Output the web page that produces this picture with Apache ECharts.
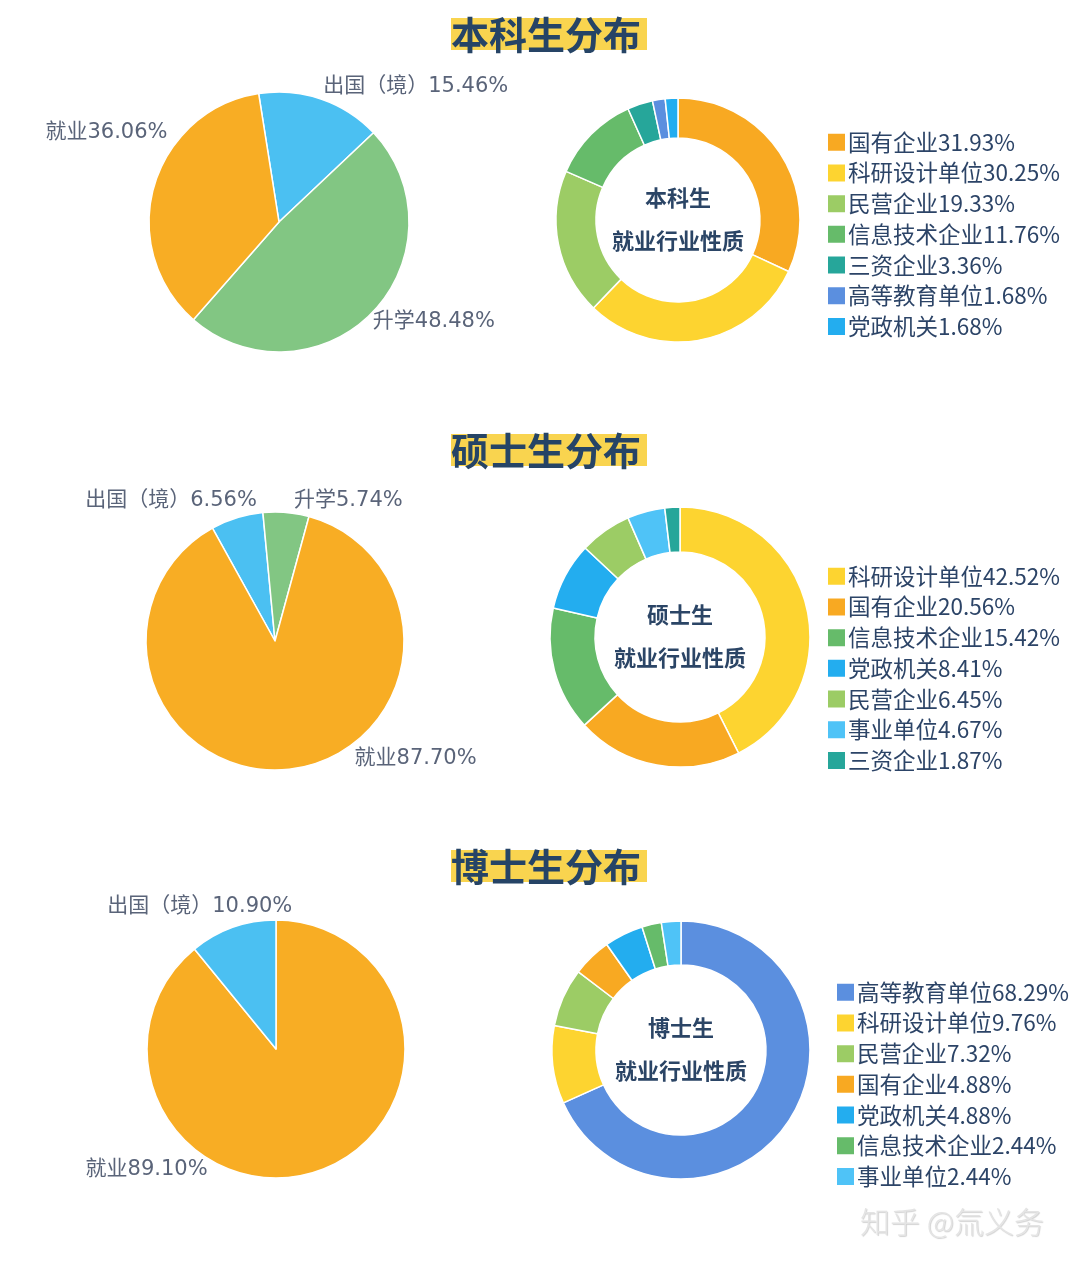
<!DOCTYPE html>
<html>
<head>
<meta charset="utf-8">
<script src="https://cdn.jsdelivr.net/npm/echarts@6/dist/echarts.min.js"></script>
<style>
html,body{margin:0;padding:0;background:#fff;}
#chart{width:1080px;height:1267px;}
</style>
</head>
<body>
<div id="chart"></div>
<script>
// ---------- DATA ----------
const sectionTitles = ['本科生分布', '硕士生分布', '博士生分布'];
const donutCenterTitles = ['本科生', '硕士生', '博士生'];
const donutCenterSubtitle = '就业行业性质';

const undergradOutcomeNames = ['出国（境）', '升学', '就业'];
const undergradOutcomeValues = [15.46, 48.48, 36.06];
const masterOutcomeNames = ['出国（境）', '升学', '就业'];
const masterOutcomeValues = [6.56, 5.74, 87.70];
const phdOutcomeNames = ['就业', '出国（境）'];
const phdOutcomeValues = [89.10, 10.90];

const undergradIndustryNames = ['国有企业', '科研设计单位', '民营企业', '信息技术企业', '三资企业', '高等教育单位', '党政机关'];
const undergradIndustryValues = [31.93, 30.25, 19.33, 11.76, 3.36, 1.68, 1.68];
const masterIndustryNames = ['科研设计单位', '国有企业', '信息技术企业', '党政机关', '民营企业', '事业单位', '三资企业'];
const masterIndustryValues = [42.52, 20.56, 15.42, 8.41, 6.45, 4.67, 1.87];
const phdIndustryNames = ['高等教育单位', '科研设计单位', '民营企业', '国有企业', '党政机关', '信息技术企业', '事业单位'];
const phdIndustryValues = [68.29, 9.76, 7.32, 4.88, 4.88, 2.44, 2.44];

const watermarkText = '知乎 @氚义务';

// ---------- STYLE ----------
const FONT = '"Noto Sans CJK SC", "Noto Sans", sans-serif';
const LABEL_FONT = '"DejaVu Sans", "Noto Sans CJK SC", sans-serif';
const colorMap = {
  '出国（境）': '#4BC0F2',
  '升学': '#82C683',
  '就业': '#F8AD24',
  '国有企业': '#F8A922',
  '科研设计单位': '#FDD430',
  '民营企业': '#9CCC65',
  '信息技术企业': '#66BB6A',
  '三资企业': '#26A69A',
  '高等教育单位': '#5B8FDF',
  '党政机关': '#23ADEF',
  '事业单位': '#4FC3F7'
};
const pct = v => v.toFixed(2) + '%';

function buildData(names, values) {
  return names.map((n, i) => ({ name: n + pct(values[i]), value: values[i], itemStyle: { color: colorMap[n] } }));
}

// layout per section
const sections = [
  { pieCenter: [279, 222], pieR: 130, pieStart: 99, donutCenter: [678, 220], donutR: [82, 122],
    legendLeft: 826, legendTop: 131, titleY: 35,
    outNames: undergradOutcomeNames, outValues: undergradOutcomeValues,
    indNames: undergradIndustryNames, indValues: undergradIndustryValues,
    labelAdj: [{ dx: -6, dy: -3 }, { dx: -12, dy: 2 }, { dx: 28, dy: -51 }] },
  { pieCenter: [275, 641], pieR: 129, pieStart: 119, donutCenter: [680, 637], donutR: [85, 130],
    legendLeft: 826, legendTop: 565, titleY: 451,
    outNames: masterOutcomeNames, outValues: masterOutcomeValues,
    indNames: masterIndustryNames, indValues: masterIndustryValues,
    labelAdj: [{ dx: 28, dy: -8 }, { dx: 2, dy: -2 }, { dx: 58, dy: -20 }] },
  { pieCenter: [276, 1049], pieR: 129, pieStart: 90, donutCenter: [681, 1050], donutR: [85, 129],
    legendLeft: 835, legendTop: 981, titleY: 867,
    outNames: phdOutcomeNames, outValues: phdOutcomeValues,
    indNames: phdIndustryNames, indValues: phdIndustryValues,
    labelAdj: [{ dx: -120, dy: -10, align: 'right' }, { dx: 68, dy: -12 }] }
];

const series = [];
const legends = [];
const graphics = [];

sections.forEach((s, k) => {
  series.push({
    type: 'pie',
    center: s.pieCenter,
    radius: [0, s.pieR],
    startAngle: s.pieStart,
    clockwise: true,
    animation: false,
    silent: true,
    avoidLabelOverlap: false,
    itemStyle: { borderColor: '#ffffff', borderWidth: 1.5 },
    label: {
      show: true, position: 'outside', formatter: '{b}',
      color: '#5A6479', fontSize: 21, fontFamily: LABEL_FONT
    },
    labelLine: { show: false, length: 10, length2: 0 },
    labelLayout: function (p) { return s.labelAdj[p.dataIndex]; },
    data: buildData(s.outNames, s.outValues)
  });
  series.push({
    type: 'pie',
    center: s.donutCenter,
    radius: s.donutR,
    startAngle: 90,
    clockwise: true,
    animation: false,
    silent: true,
    itemStyle: { borderColor: '#ffffff', borderWidth: 1.5 },
    label: { show: false },
    labelLine: { show: false },
    data: buildData(s.indNames, s.indValues)
  });
  legends.push({
    orient: 'vertical',
    left: s.legendLeft,
    top: s.legendTop,
    padding: 0,
    icon: 'rect',
    itemWidth: 19,
    itemHeight: 19,
    itemGap: 8.2,
    selectedMode: false,
    textStyle: { color: '#2C4467', fontSize: 22.5, lineHeight: 22, fontFamily: FONT, padding: [0, 0, 0, -3] },
    data: s.indNames.map((n, i) => n + pct(s.indValues[i]))
  });
  // section title with highlight
  graphics.push({
    type: 'rect', silent: true, z: 1,
    shape: { x: 451, y: s.titleY - 17, width: 196, height: 32 },
    style: { fill: '#F9D44F' }
  });
  graphics.push({
    type: 'text', silent: true, z: 2,
    x: 546, y: s.titleY,
    style: { text: sectionTitles[k], font: 'bold 38px ' + FONT, fill: '#264466', textAlign: 'center', textVerticalAlign: 'middle' }
  });
  // donut center text
  graphics.push({
    type: 'text', silent: true, z: 5,
    x: s.donutCenter[0], y: s.donutCenter[1] - 22,
    style: { text: donutCenterTitles[k], font: 'bold 22px ' + FONT, fill: '#2B4566', textAlign: 'center', textVerticalAlign: 'middle' }
  });
  graphics.push({
    type: 'text', silent: true, z: 5,
    x: s.donutCenter[0], y: s.donutCenter[1] + 21,
    style: { text: donutCenterSubtitle, font: 'bold 22px ' + FONT, fill: '#2B4566', textAlign: 'center', textVerticalAlign: 'middle' }
  });
});

graphics.push({
  type: 'text', silent: true, z: 5,
  x: 952, y: 1222,
  style: { text: watermarkText, font: '300 30px ' + FONT, fill: '#E4E4E4', textAlign: 'center', textVerticalAlign: 'middle',
           textShadowColor: 'rgba(0,0,0,0.18)', textShadowBlur: 1, textShadowOffsetX: 1, textShadowOffsetY: 1 }
});

const chart = echarts.init(document.getElementById('chart'), null, { renderer: 'canvas' });
chart.setOption({
  backgroundColor: '#ffffff',
  animation: false,
  legend: legends,
  series: series,
  graphic: graphics
});
</script>
</body>
</html>
